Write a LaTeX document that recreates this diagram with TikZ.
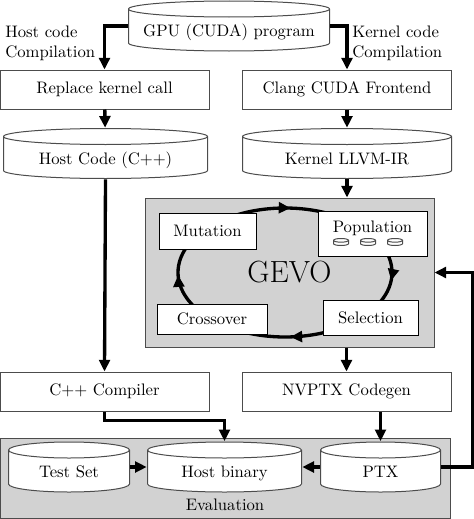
\documentclass[tikz,border=0pt]{standalone}
\usetikzlibrary{arrows.meta,decorations.markings,calc}
\newcommand{\pxl}{0.6pt}
\tikzset{
  dbpath/.style={path picture={
    \draw[draw=black!70, line width=0.6pt, fill=white]
      let \p1=(path picture bounding box.south west),
          \p2=(path picture bounding box.north east),
          \n1={(\x2-\x1)/2-0.3pt} in
      (\x1+0.3pt,\y2-#1-0.3pt) -- (\x1+0.3pt,\y1+#1+0.3pt)
      arc[start angle=180, end angle=360, x radius={\n1*1pt}, y radius=#1]
      -- (\x2-0.3pt,\y2-#1-0.3pt)
      arc[start angle=0, end angle=180, x radius={\n1*1pt}, y radius=#1] -- cycle
      (\x1+0.3pt,\y2-#1-0.3pt)
      arc[start angle=180, end angle=360, x radius={\n1*1pt}, y radius=#1];}},
  stepbox/.style={rectangle, draw=black!70, line width=0.6pt, fill=white,
    minimum width=209*\pxl, minimum height=39*\pxl, inner sep=0pt},
  store/.style={rectangle, inner sep=0pt, minimum height=51*\pxl,
    text height=15.5pt, text depth=2.5pt, dbpath=4.8pt},
  minidb/.style={rectangle, inner sep=0pt, minimum width=16*\pxl,
    minimum height=8*\pxl, dbpath=1.1pt},
  panel/.style={rectangle, draw=black!70, line width=0.6pt, fill=gray!35, inner sep=0pt},
  gabox/.style={rectangle, draw=black, line width=0.6pt, fill=white, inner sep=0pt},
  flow/.style={line width=2pt, -{Triangle[length=7pt,width=6.5pt]}},
  cycle/.style={line width=2pt, postaction={decorate}, decoration={markings,
    mark=at position 0.015 with {\arrow{Triangle[length=7pt,width=6.5pt]}},
    mark=at position 0.24 with {\arrow{Triangle[length=7pt,width=6.5pt]}},
    mark=at position 0.495 with {\arrow{Triangle[length=7pt,width=6.5pt]}},
    mark=at position 0.76 with {\arrow{Triangle[length=7pt,width=6.5pt]}}}}
}
\begin{document}
\begin{tikzpicture}[x=\pxl, y=-\pxl]
  \useasboundingbox (0,0) rectangle (474,519);

  % sources
  \node[store, minimum width=202*\pxl] (prog) at (229,26) {GPU (CUDA) program};
  \node[stepbox] (repl) at (104.5,89.5) {Replace kernel call};
  \node[stepbox] (clang) at (347,89.5) {Clang CUDA Frontend};
  \node[store, minimum width=205*\pxl] (hostc) at (105.5,153.5) {Host Code (C++)};
  \node[store, minimum width=210*\pxl] (llvm) at (347,153.5) {Kernel LLVM-IR};
  \node[anchor=west, align=left, inner sep=0pt] (hostlbl) at (5,43) {Host code\\Compilation};
  \node[anchor=west, align=left, inner sep=0pt] (kernlbl) at (352,43) {Kernel code\\Compilation};

  % GEVO loop
  \node[panel, minimum width=289*\pxl, minimum height=149*\pxl,
    font=\fontsize{18.4}{22}\selectfont] (gevo) at (289.5,272.5) {GEVO};
  \coordinate (loopc) at (285,272.5);
  \draw[cycle] (loopc) ellipse [x radius=107, y radius=64.5];
  \node[gabox, minimum width=97*\pxl, minimum height=36*\pxl] (mut) at (207.5,231) {Mutation};
  \node[gabox, minimum width=109*\pxl, text height=7pt, text depth=8pt, inner ysep=6pt] (pop) at (372.5,233.5) {Population};
  \node[minidb] (db1) at (341,242) {};
  \node[minidb] (db2) at (368,242) {};
  \node[minidb] (db3) at (395,242) {};
  \node[gabox, minimum width=110*\pxl, minimum height=30*\pxl] (cross) at (212,319) {Crossover};
  \node[gabox, minimum width=95*\pxl, minimum height=35*\pxl] (sel) at (370.5,317.5) {Selection};

  % back ends
  \node[stepbox] (cpp) at (104.5,391.5) {C++ Compiler};
  \node[stepbox] (nvptx) at (346.5,391.5) {NVPTX Codegen};
  \node[panel, minimum width=450*\pxl, minimum height=80*\pxl,
    label={[anchor=south, inner sep=4.4pt]south:Evaluation}] (eval) at (225,478) {};
  \node[store, minimum width=122*\pxl] (test) at (69,467) {Test Set};
  \node[store, minimum width=155*\pxl] (hbin) at (224.5,467) {Host binary};
  \node[store, minimum width=121*\pxl] (ptx) at (380.5,467) {PTX};

  \draw[flow] (prog.west) -| (repl.north);
  \draw[flow] (prog.east) -| (clang.north);
  \draw[flow] (repl) -- (hostc);
  \draw[flow] (clang) -- (llvm);
  \draw[flow] (llvm.south) -- (llvm.south |- gevo.north);
  \draw[flow] (hostc.south) -- (cpp.north);
  \draw[flow] (nvptx.north |- gevo.south) -- (nvptx.north);
  \draw[flow] (cpp.south) -- ++(0,9) -| (hbin.north);
  \draw[flow] (nvptx.south -| ptx.north) -- (ptx.north);
  \draw[flow] (test) -- (hbin);
  \draw[flow] (ptx) -- (hbin);
  \draw[flow] (ptx.east) -- ++(31,0) |- (gevo.east);
\end{tikzpicture}
\end{document}
